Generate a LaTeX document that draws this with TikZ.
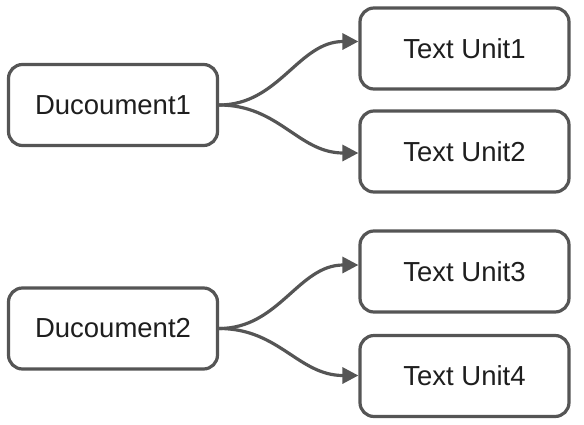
\documentclass[tikz,border=0pt]{standalone}
\usepackage{fontspec}
\setmainfont{Liberation Sans}
\usetikzlibrary{arrows.meta}
\definecolor{edgegray}{HTML}{555555}
\definecolor{txtgray}{HTML}{1E1E1E}
\begin{document}
\begin{tikzpicture}[x=1pt,y=-1pt,
  box/.style={draw=edgegray, line width=3.2pt, rounded corners=14pt, fill=white,
    minimum width=209pt, minimum height=81pt, inner sep=0pt,
    font=\fontsize{27.5}{32}\selectfont, text=txtgray},
  conn/.style={draw=edgegray, line width=3.2pt, -{Triangle[length=16pt,width=16pt]}}]
\useasboundingbox (0,0) rectangle (584,424);
\node[box] (d1) at (113,105) {Ducoument1};
\node[box] (t1) at (464.5,48.5) {Text Unit1};
\node[box] (t2) at (464.5,151.5) {Text Unit2};
\node[box] (d2) at (113,328.5) {Ducoument2};
\node[box] (t3) at (464.5,271.5) {Text Unit3};
\node[box] (t4) at (464.5,376) {Text Unit4};
\draw[conn] (d1.east) .. controls +(60,0) and +(-60,0) .. ([yshift=7pt]t1.west);
\draw[conn] (d1.east) .. controls +(60,0) and +(-60,0) .. ([yshift=-1.5pt]t2.west);
\draw[conn] (d2.east) .. controls +(60,0) and +(-60,0) .. ([yshift=6.5pt]t3.west);
\draw[conn] (d2.east) .. controls +(60,0) and +(-60,0) .. ([yshift=0.5pt]t4.west);
\end{tikzpicture}
\end{document}
